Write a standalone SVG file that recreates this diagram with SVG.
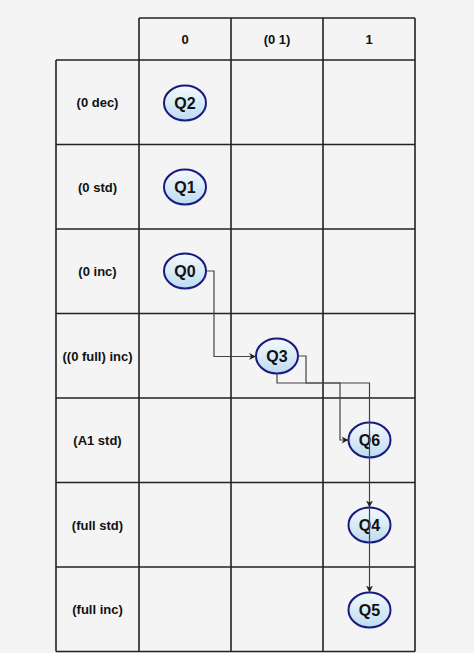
<svg xmlns="http://www.w3.org/2000/svg" width="474" height="653" viewBox="0 0 474 653">
<style>
.grid{fill:none;stroke:#222;stroke-width:1.6}
.lbl{font-family:"Liberation Sans",Arial,sans-serif;font-size:13px;font-weight:bold;fill:#111;text-anchor:middle;dominant-baseline:central}
.node ellipse{fill:url(#g);stroke:#1a1a80;stroke-width:2}
.node text{font-family:"Liberation Sans",Arial,sans-serif;font-size:16px;font-weight:bold;fill:#111;text-anchor:middle;dominant-baseline:central}
.edge{fill:none;stroke:#444;stroke-width:1.2;marker-end:url(#arr)}
</style>
<defs>
<linearGradient id="g" x1="0" y1="0" x2="0" y2="1">
<stop offset="0" stop-color="#f4f9fd"/>
<stop offset="1" stop-color="#bcdcf0"/>
</linearGradient>
<marker id="arr" viewBox="0 0 10 10" refX="10" refY="5" markerWidth="7" markerHeight="7" markerUnits="userSpaceOnUse" orient="auto">
<path d="M0,0 L10,5 L0,10 L3,5 Z" fill="#222"/>
</marker>
</defs>
<rect width="474" height="653" fill="#f4f4f4"/>
<g id="table">
<path class="grid" d="M139,18 H415 M56,60 H415 M56,144.5 H415 M56,229 H415 M56,313.5 H415 M56,398 H415 M56,482.5 H415 M56,567 H415 M56,651.5 H415 M56,60 V651.5 M139,18 V651.5 M231,18 V651.5 M323,18 V651.5 M415,18 V651.5"/>
<text class="lbl" x="185" y="39">0</text>
<text class="lbl" x="277" y="39">(0 1)</text>
<text class="lbl" x="369" y="39">1</text>
<text class="lbl" x="97.5" y="102">(0 dec)</text>
<text class="lbl" x="97.5" y="187">(0 std)</text>
<text class="lbl" x="97.5" y="271">(0 inc)</text>
<text class="lbl" x="97.5" y="356">((0 full) inc)</text>
<text class="lbl" x="97.5" y="440">(A1 std)</text>
<text class="lbl" x="97.5" y="525">(full std)</text>
<text class="lbl" x="97.5" y="609">(full inc)</text>
</g>
<g id="Q2" class="node"><ellipse cx="185" cy="103" rx="21" ry="17.5"/><text x="185" y="103">Q2</text></g>
<g id="Q1" class="node"><ellipse cx="185" cy="187" rx="21" ry="17.5"/><text x="185" y="187">Q1</text></g>
<g id="Q0" class="node"><ellipse cx="185" cy="271" rx="21" ry="17.5"/><text x="185" y="271">Q0</text></g>
<g id="Q3" class="node"><ellipse cx="277" cy="356" rx="21" ry="17.5"/><text x="277" y="356">Q3</text></g>
<g id="Q6" class="node"><ellipse cx="369.5" cy="440" rx="21" ry="17.5"/><text x="369.5" y="440">Q6</text></g>
<g id="Q4" class="node"><ellipse cx="369.5" cy="525" rx="21" ry="17.5"/><text x="369.5" y="525">Q4</text></g>
<g id="Q5" class="node"><ellipse cx="369.5" cy="610" rx="21" ry="17.5"/><text x="369.5" y="610">Q5</text></g>
<g id="connectors">
<path class="edge" d="M206,271 H214 V356.5 H256"/>
<path class="edge" d="M298,356 H306 V383 H340 V440 H348.5"/>
<path class="edge" d="M277,373.5 V383 H369.5 V507.5"/>
<path class="edge" d="M369.5,507.5 V592.5"/>
</g>
</svg>
